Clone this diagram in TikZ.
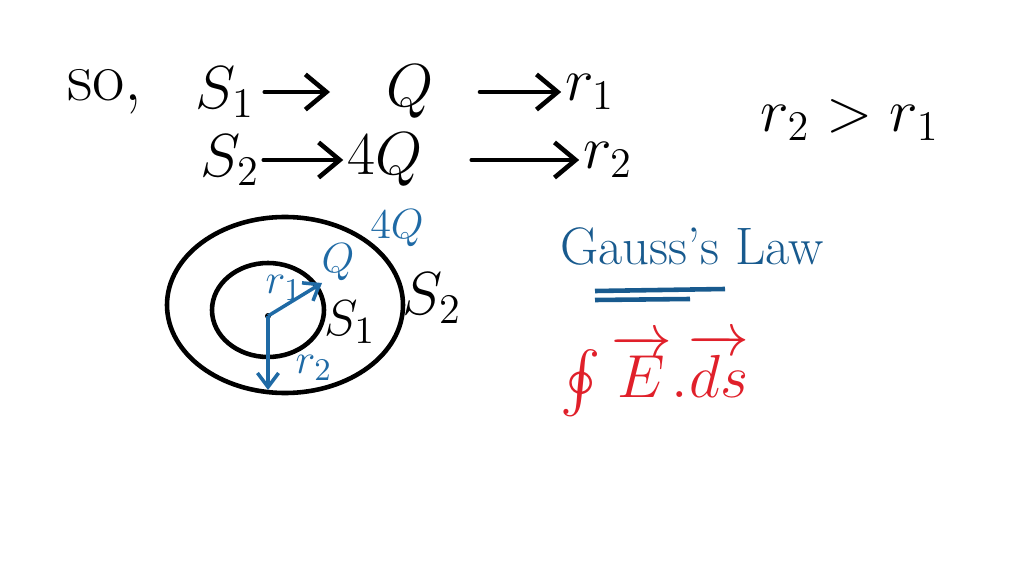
\documentclass[tikz,border=0pt]{standalone}
\usepackage{amsmath}
\usetikzlibrary{arrows.meta}
\definecolor{penblue}{HTML}{1F6AA5}
\definecolor{darkblue}{HTML}{185A8E}
\definecolor{penred}{HTML}{E0202A}
\begin{document}
\begin{tikzpicture}[x=0.01cm,y=-0.01cm,
        every node/.style={inner sep=1pt,font=\fontsize{17}{20}\selectfont},
        pen/.style={line width=1.3pt,line cap=round},
        arr/.style={pen,-{Straight Barb[length=6pt,width=10pt]}},
        bluelbl/.style={text=penblue,font=\fontsize{13}{15}\selectfont},
        thin arr/.style={line width=1pt,penblue,-{Straight Barb[length=4pt,width=6pt]}}]
    \useasboundingbox (0,0) rectangle (1024,576);
    % first row
    \node (so) at (105,92) {\fontsize{20}{22}\selectfont so,};
    \node (s1) at (225,92) {$S_1$};
    \node (q1) at (410,92) {$Q$};
    \node (r1) at (590,92) {$r_1$};
    \draw[arr] (s1.east) ++(6,0) -- (330,92);
    \draw[arr] (480,92) -- (r1.west);
    % second row
    \node (s2) at (230,160) {$S_2$};
    \node (q2) at (385,160) {$4Q$};
    \node (r2) at (608,160) {$r_2$};
    \draw[arr] (s2.east) -- (q2.west);
    \draw[arr] (q2.east) ++(45,0) -- (r2.west);
    % comparison
    \node (cmp) at (850,120) {$r_2 > r_1$};
    % surfaces
    \draw[pen] (285,305) ellipse [x radius=118,y radius=88];
    \draw[pen] (268,310) ellipse [x radius=56,y radius=47];
    \coordinate (o) at (268,316);
    \coordinate (p1) at (322,283);
    \coordinate (p2) at (268,390);
    \fill (o) circle (3);
    \draw[thin arr] (o) -- (p1);
    \draw[thin arr] (o) -- (p2);
    \node[bluelbl] (lr1) at (284,288) {$r_1$};
    \node[bluelbl] (lr2) at (314,368) {$r_2$};
    \node[bluelbl] (lq) at (338,262) {$Q$};
    \node[bluelbl] (l4q) at (397,228) {$4Q$};
    \node[font=\fontsize{15}{17}\selectfont] (ls1) at (350,322) {$S_1$};
    \node (ls2) at (432,298) {$S_2$};
    % Gauss's law
    \node[text=darkblue,font=\fontsize{15}{17}\selectfont] (gl) at (692,246) {Gauss's Law};
    \draw[darkblue,line width=1.3pt] (595,291) -- (725,289);
    \draw[darkblue,line width=1.3pt] (595,300) -- (690,299);
    \node[text=penred,font=\fontsize{18}{22}\selectfont] (flux) at (655,375) {$\oint \overrightarrow{E}.\overrightarrow{ds}$};
\end{tikzpicture}
\end{document}
